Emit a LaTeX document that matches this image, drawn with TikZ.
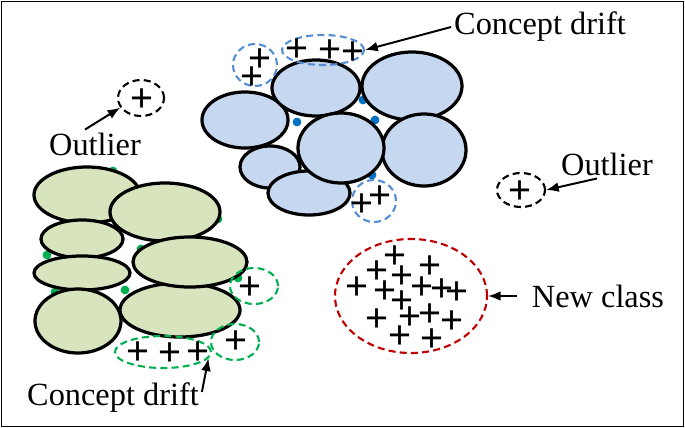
\documentclass[tikz,border=0pt]{standalone}
\usepackage{fontspec}
\setmainfont{Liberation Serif}
\newfontfamily\plusfont{Liberation Sans}
\usetikzlibrary{shapes.geometric,arrows.meta}

\definecolor{blobblue}{RGB}{197,216,240}
\definecolor{blobgreen}{RGB}{215,228,189}
\definecolor{dotblue}{RGB}{0,112,192}
\definecolor{dotgreen}{RGB}{0,176,80}
\definecolor{ringblue}{RGB}{85,142,213}
\definecolor{ringgreen}{RGB}{0,176,80}
\definecolor{ringred}{RGB}{192,0,0}

\begin{document}
\begin{tikzpicture}[x=0.025cm,y=-0.025cm,
    blob/.style={ellipse,draw=black,line width=2.3pt,inner sep=0pt},
    bblob/.style={blob,fill=blobblue},
    gblob/.style={blob,fill=blobgreen},
    ring/.style={ellipse,draw,dashed,line width=1.5pt,dash pattern=on 5pt off 3pt,inner sep=0pt},
    pl/.style={inner sep=0pt,font=\plusfont\fontsize{28}{28}\selectfont},
    lbl/.style={inner sep=2pt,font=\fontsize{23}{27}\selectfont},
    pt/.style={circle,inner sep=0pt,minimum size=0.22cm},
    arr/.style={-{Latex[length=9pt,width=7pt]},line width=1.4pt}]
    \useasboundingbox (0,0) rectangle (685,428);
    \draw[line width=1.4pt] (1.5,1.5) rectangle (683.5,426.5);

    % blue cluster
    \node (bd1) [pt,fill=dotblue] at (297,122) {};
    \node (bd2) [pt,fill=dotblue] at (363,100) {};
    \node (bd3) [pt,fill=dotblue] at (375,120) {};
    \node (bd4) [pt,fill=dotblue] at (372,175) {};
    \node (b3) [bblob,minimum width=2.15cm,minimum height=1.4cm] at (245,120) {};
    \node (b6) [bblob,minimum width=1.5cm,minimum height=1.05cm] at (270,167) {};
    \node (b2) [bblob,minimum width=2.5cm,minimum height=1.7cm] at (412,86) {};
    \node (b5) [bblob,minimum width=2.1cm,minimum height=1.8cm] at (424,150) {};
    \node (b1) [bblob,minimum width=2.2cm,minimum height=1.4cm] at (316,88) {};
    \node (b7) [bblob,minimum width=2.05cm,minimum height=1.1cm] at (309,193) {};
    \node (b4) [bblob,minimum width=2.15cm,minimum height=1.75cm] at (341,148) {};

    % green cluster
    \node (gd1) [pt,fill=dotgreen] at (113,171) {};
    \node (gd2) [pt,fill=dotgreen] at (218,219) {};
    \node (gd3) [pt,fill=dotgreen] at (47,255) {};
    \node (gd4) [pt,fill=dotgreen] at (141,249) {};
    \node (gd5) [pt,fill=dotgreen] at (55,292) {};
    \node (gd6) [pt,fill=dotgreen] at (125,290) {};
    \node (gd7) [pt,fill=dotgreen] at (238,278) {};
    \node (g1) [gblob,minimum width=2.65cm,minimum height=1.4cm] at (87,195) {};
    \node (g2) [gblob,minimum width=2.75cm,minimum height=1.45cm] at (165,212) {};
    \node (g3) [gblob,minimum width=2.05cm,minimum height=0.95cm] at (82,239) {};
    \node (g4) [gblob,minimum width=2.4cm,minimum height=0.85cm] at (82,273) {};
    \node (g6) [gblob,minimum width=2.15cm,minimum height=1.6cm] at (78,321) {};
    \node (g7) [gblob,minimum width=3.0cm,minimum height=1.35cm] at (180,310) {};
    \node (g5) [gblob,minimum width=2.85cm,minimum height=1.25cm] at (190,262) {};

    % dashed rings
    \node (dA) [ring,draw=ringblue,minimum width=1.1cm,minimum height=1.05cm] at (255,65) {};
    \node (dT) [ring,draw=ringblue,minimum width=2.05cm,minimum height=0.75cm] at (323,50) {};
    \node (dR) [ring,draw=ringblue,minimum width=1.1cm,minimum height=1.05cm] at (374,201) {};
    \node (gR) [ring,draw=ringgreen,minimum width=1.2cm,minimum height=0.9cm] at (254,286) {};
    \node (gL) [ring,draw=ringgreen,minimum width=1.2cm,minimum height=0.9cm] at (235,342) {};
    \node (gB) [ring,draw=ringgreen,minimum width=2.4cm,minimum height=0.8cm] at (163,352) {};
    \node (nc) [ring,draw=ringred,minimum width=3.8cm,minimum height=2.85cm] at (411,296) {};
    \node (oA) [ring,draw=black,minimum width=1.15cm,minimum height=0.9cm] at (141,98) {};
    \node (oB) [ring,draw=black,minimum width=1.2cm,minimum height=0.85cm] at (521,190) {};

    % points
    \node (pA1) [pl] at (260,60) {+};
    \node (pA2) [pl] at (252,78) {+};
    \node (pT1) [pl] at (297,50) {+};
    \node (pT2) [pl] at (330,51) {+};
    \node (pT3) [pl] at (353,53) {+};
    \node (pR1) [pl] at (362,205) {+};
    \node (pR2) [pl] at (380,197) {+};
    \node (qR1) [pl] at (250,288) {+};
    \node (qL1) [pl] at (236,342) {+};
    \node (qB1) [pl] at (138,353) {+};
    \node (qB2) [pl] at (170,354) {+};
    \node (qB3) [pl] at (198,353) {+};
    \node (oA1) [pl] at (142,100) {+};
    \node (oB1) [pl] at (520,192) {+};
    \node (n1) [pl] at (395,257) {+};
    \node (n2) [pl] at (377,272) {+};
    \node (n3) [pl] at (430,267) {+};
    \node (n4) [pl] at (402,277) {+};
    \node (n5) [pl] at (357,288) {+};
    \node (n6) [pl] at (385,292) {+};
    \node (n7) [pl] at (422,288) {+};
    \node (n8) [pl] at (442,290) {+};
    \node (n9) [pl] at (457,293) {+};
    \node (n10) [pl] at (402,302) {+};
    \node (n11) [pl] at (377,320) {+};
    \node (n12) [pl] at (410,318) {+};
    \node (n13) [pl] at (430,315) {+};
    \node (n14) [pl] at (452,322) {+};
    \node (n15) [pl] at (400,337) {+};
    \node (n16) [pl] at (432,340) {+};

    % labels
    \node (cdT) [lbl] at (540,27) {Concept drift};
    \node (cdB) [lbl] at (113,398) {Concept drift};
    \node (olA) [lbl] at (95,144) {Outlier};
    \node (olB) [lbl] at (607,164) {Outlier};
    \node (ncl) [lbl] at (598,296) {New class};

    \draw[arr] (cdT.west) -- (dT.east);
    \draw[arr] ([yshift=0.15cm]cdB.east) -- (gB.-8);
    \draw[arr] ([xshift=-0.25cm]olA.north) -- (oA.205);
    \draw[arr] ([xshift=-0.25cm]olB.south) -- (oB.east);
    \draw[arr,shorten <=0.3cm] (ncl.west) -- (nc.east);
\end{tikzpicture}
\end{document}
